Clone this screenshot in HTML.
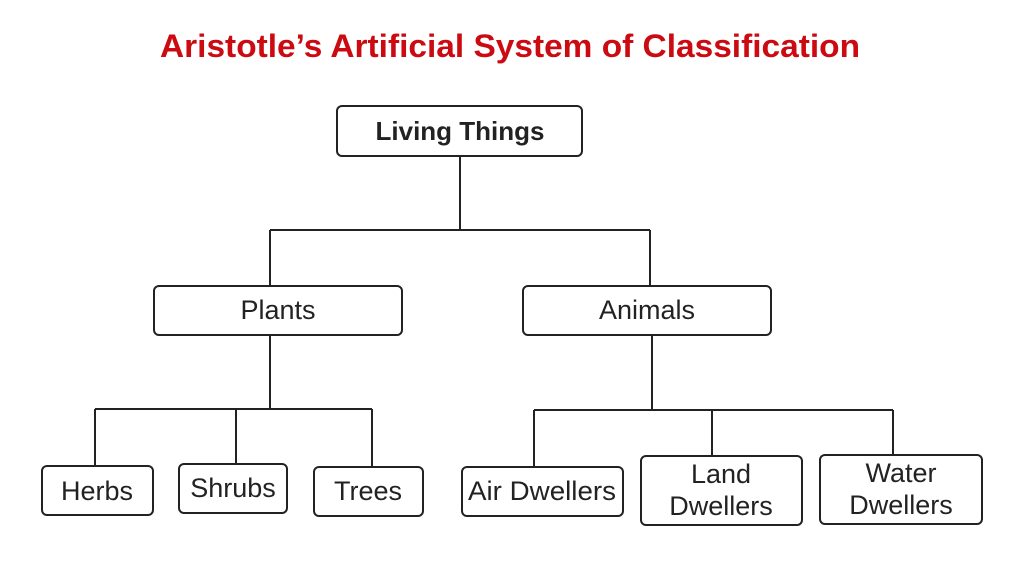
<!DOCTYPE html>
<html><head><meta charset="utf-8"><style>html,body{margin:0;padding:0;background:#fff}svg{display:block}</style></head>
<body>
<svg width="1024" height="561" viewBox="0 0 1024 561" xmlns="http://www.w3.org/2000/svg" font-family="Liberation Sans, sans-serif">
<text x="510" y="57" text-anchor="middle" font-size="32" font-weight="bold" fill="#cc0a12" textLength="700" lengthAdjust="spacingAndGlyphs">Aristotle’s Artificial System of Classification</text>
<g fill="none" stroke="#222" stroke-width="2">
<path d="M460 156V230M270 230H650M270 230V286M650 230V286"/>
<path d="M270 335V409M95 409H372M95 409V466M236 409V464M372 409V467"/>
<path d="M652 335V410M534 410H893M534 410V467M712 410V456M893 410V455"/>
<rect x="337" y="106" width="245" height="50" rx="5"/>
<rect x="154" y="286" width="248" height="49" rx="5"/>
<rect x="523" y="286" width="248" height="49" rx="5"/>
<rect x="42" y="466" width="111" height="49" rx="5"/>
<rect x="179" y="464" width="108" height="49" rx="5"/>
<rect x="314" y="467" width="109" height="49" rx="5"/>
<rect x="462" y="467" width="161" height="49" rx="5"/>
<rect x="641" y="456" width="161" height="69" rx="5"/>
<rect x="820" y="455" width="162" height="69" rx="5"/>
</g>
<g fill="#222" font-size="27" text-anchor="middle">
<text x="460" y="140" font-weight="bold" font-size="26">Living Things</text>
<text x="278" y="319">Plants</text>
<text x="647" y="319">Animals</text>
<text x="97" y="500">Herbs</text>
<text x="233" y="497">Shrubs</text>
<text x="368" y="500">Trees</text>
<text x="542" y="500" textLength="148" lengthAdjust="spacingAndGlyphs">Air Dwellers</text>
<text x="721" y="483">Land</text>
<text x="721" y="515">Dwellers</text>
<text x="901" y="482">Water</text>
<text x="901" y="514">Dwellers</text>
</g>
</svg>
</body></html>
